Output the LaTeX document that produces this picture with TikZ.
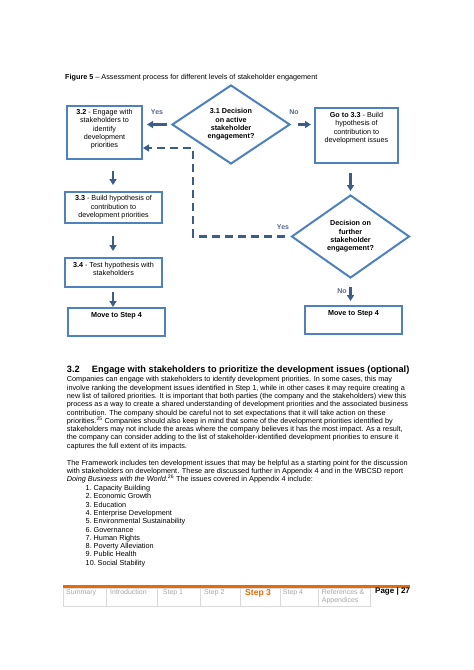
\documentclass[tikz,border=0pt]{standalone}
\usepackage{fontspec}
\setmainfont{Liberation Sans}
\usetikzlibrary{arrows.meta, positioning, shapes.geometric}

\definecolor{boxblue}{HTML}{4F81BD}
\definecolor{arrowblue}{HTML}{3C5C8C}
\definecolor{answergrey}{HTML}{56698A}
\definecolor{footorange}{HTML}{E36C09}
\definecolor{tabgrey}{HTML}{A6A6A6}
\definecolor{tabline}{HTML}{D9D9D9}

\begin{document}
\begin{tikzpicture}[
	x=1pt, y=-1pt,
	box/.style={draw=boxblue, line width=2pt, fill=white, rectangle, inner sep=0pt},
	boxtext/.style={font=\fontsize{7.2}{8.3}\selectfont, align=center, inner sep=0pt},
	decision/.style={draw=boxblue, line width=2pt, fill=white, diamond, aspect=1.5, inner sep=0pt, font=\bfseries\fontsize{7.2}{8.3}\selectfont, align=center},
	arrow/.style={-{Triangle[length=6pt, width=7pt]}, line width=2.2pt, draw=arrowblue},
	dasharrow/.style={arrow, dash pattern=on 8pt off 5pt},
	answer/.style={font=\bfseries\fontsize{7}{8}\selectfont, text=answergrey, inner sep=0pt},
	bodytext/.style={font=\fontsize{7.3}{8.3}\selectfont, align=left, inner sep=0pt, anchor=north west},
	tabtext/.style={font=\fontsize{7}{8}\selectfont, text=tabgrey, align=left, inner sep=0pt, anchor=north west}
	]
	
	\fill[white] (0,0) rectangle (474,670);
	\useasboundingbox (0,0) rectangle (474,670);
	
	% ======================
	% Caption
	% ======================
	\node[font=\fontsize{7.25}{8.3}\selectfont, inner sep=0pt, anchor=west] (caption) at (65,77.5) {\textbf{Figure 5} -- Assessment process for different levels of stakeholder engagement};
	
	% ======================
	% Flowchart
	% ======================
	\node[decision, minimum width=118pt, minimum height=79pt] (d1) at (231,124.5) {3.1 Decision\\on active\\stakeholder\\engagement?};
	
	% left branch (Yes)
	\node[box, minimum width=75pt, minimum height=53pt] (b32) at (104.5,132.5) {};
	\node[boxtext, anchor=north, below=4pt of b32.north] (t32) {\textbf{3.2} - Engage with\\stakeholders to\\identify\\development\\priorities};
	
	\node[box, minimum width=97pt, minimum height=31pt] (b33) at (113.5,207.5) {};
	\node[boxtext, anchor=north, below=4.5pt of b33.north] (t33) {\textbf{3.3} - Build hypothesis of\\contribution to\\development priorities};
	
	\node[box, minimum width=97pt, minimum height=29pt] (b34) at (113.5,272.5) {};
	\node[boxtext, anchor=north, below=5pt of b34.north] (t34) {\textbf{3.4} - Test hypothesis with\\stakeholders};
	
	\node[box, minimum width=97pt, minimum height=28pt] (mv1) at (116.5,322) {};
	\node[boxtext, anchor=north, below=5pt of mv1.north] (tmv1) {\textbf{Move to Step 4}};
	
	% right branch (No)
	\node[box, minimum width=83pt, minimum height=55pt] (g33) at (356.5,135.5) {};
	\node[boxtext, anchor=north, below=5pt of g33.north] (tg33) {\textbf{Go to 3.3} - Build\\hypothesis of\\contribution to\\development issues};
	
	\node[decision, minimum width=118pt, minimum height=83pt] (d2) at (350.5,236.5) {Decision on\\further\\stakeholder\\engagement?};
	
	\node[box, minimum width=97pt, minimum height=28pt] (mv2) at (353.5,320) {};
	\node[boxtext, anchor=north, below=5pt of mv2.north] (tmv2) {\textbf{Move to Step 4}};
	
	% answers
	\node[answer] (yes1) at (157,112) {Yes};
	\node[answer] (no1) at (294,112) {No};
	\node[answer] (yes2) at (283,227) {Yes};
	\node[answer] (no2) at (342,291) {No};
	
	% arrows
	\coordinate (lane) at (113,0);
	\coordinate (loop) at (193,148);
	
	\draw[arrow, shorten <=4pt, shorten >=4pt] (d1.west) -- (d1.west -| b32.east);
	\draw[arrow, shorten <=7pt, shorten >=3pt] (d1.east) -- (d1.east -| g33.west);
	\draw[arrow, shorten <=11pt, shorten >=6pt] (lane |- b32.south) -- (lane |- b33.north);
	\draw[arrow, shorten <=12pt, shorten >=6pt] (lane |- b33.south) -- (lane |- b34.north);
	\draw[arrow, shorten <=4pt] (lane |- b34.south) -- (lane |- mv1.north);
	\draw[arrow, shorten <=9pt, shorten >=3pt] (d2.north |- g33.south) -- (d2.north);
	\draw[arrow, shorten <=8pt, shorten >=4pt] (d2.south) -- (d2.south |- mv2.north);
	
	% further engagement loops back to 3.2
	\draw[dasharrow, shorten <=6pt] (d2.west) -| (loop) -- (loop -| b32.east);
	
	% ======================
	% Section text
	% ======================
	\node[font=\bfseries\fontsize{9.2}{10}\selectfont, inner sep=0pt, anchor=base west] (secnum) at (66.7,372.5) {3.2};
	\node[font=\bfseries\fontsize{9.2}{10}\selectfont, inner sep=0pt, anchor=base west] (sectitle) at (91.7,372.5) {Engage with stakeholders to prioritize the development issues (optional)};
	
	\node[bodytext] (para1) at (66.7,376.4) {Companies can engage with stakeholders to identify development priorities. In some cases, this may\\
		involve ranking the development issues identified in Step 1, while in other cases it may require creating a\\
		new list of tailored priorities. It is important that both parties (the company and the stakeholders) view this\\
		process as a way to create a shared understanding of development priorities and the associated business\\
		contribution. The company should be careful not to set expectations that it will take action on these\\
		priorities.\textsuperscript{25} Companies should also keep in mind that some of the development priorities identified by\\
		stakeholders may not include the areas where the company believes it has the most impact. As a result,\\
		the company can consider adding to the list of stakeholder-identified development priorities to ensure it\\
		captures the full extent of its impacts.};
	
	\node[bodytext] (para2) at (66.7,459.8) {The Framework includes ten development issues that may be helpful as a starting point for the discussion\\
		with stakeholders on development. These are discussed further in Appendix 4 and in the WBCSD report\\
		\textit{Doing Business with the World}.\textsuperscript{26} The issues covered in Appendix 4 include:};
	
	\node[bodytext] (issues) at (85.5,485.1) {\makebox[8pt][l]{1.}Capacity Building\\
		\makebox[8pt][l]{2.}Economic Growth\\
		\makebox[8pt][l]{3.}Education\\
		\makebox[8pt][l]{4.}Enterprise Development\\
		\makebox[8pt][l]{5.}Environmental Sustainability\\
		\makebox[8pt][l]{6.}Governance\\
		\makebox[8pt][l]{7.}Human Rights\\
		\makebox[8pt][l]{8.}Poverty Alleviation\\
		\makebox[8pt][l]{9.}Public Health\\
		\makebox[12pt][l]{10.}Social Stability};
	
	% ======================
	% Footer
	% ======================
	\draw[footorange, line width=2.2pt] (63,586.5) -- (410,586.5);
	\foreach \xa/\xb in {63/106, 106/157, 157/200, 200/240, 240/280, 280/318, 318/370}
		\draw[tabline, line width=0.7pt] (\xa,588) rectangle (\xb,606);
	
	\node[tabtext] (tabsum) at (66,589) {Summary};
	\node[tabtext] (tabintro) at (110,589) {Introduction};
	\node[tabtext] (tabstepa) at (162.7,589) {Step 1};
	\node[tabtext] (tabstepb) at (204,589) {Step 2};
	\node[tabtext, font=\bfseries\fontsize{8.6}{9}\selectfont, text=footorange] (tabstepc) at (245,589) {Step 3};
	\node[tabtext] (tabstepd) at (282.7,589) {Step 4};
	\node[tabtext] (tabref) at (321.7,589) {References \&\\Appendices};
	\node[tabtext, font=\bfseries\fontsize{8}{9}\selectfont, text=black] (pagenum) at (375,587.5) {Page | 27};
	
\end{tikzpicture}
\end{document}
